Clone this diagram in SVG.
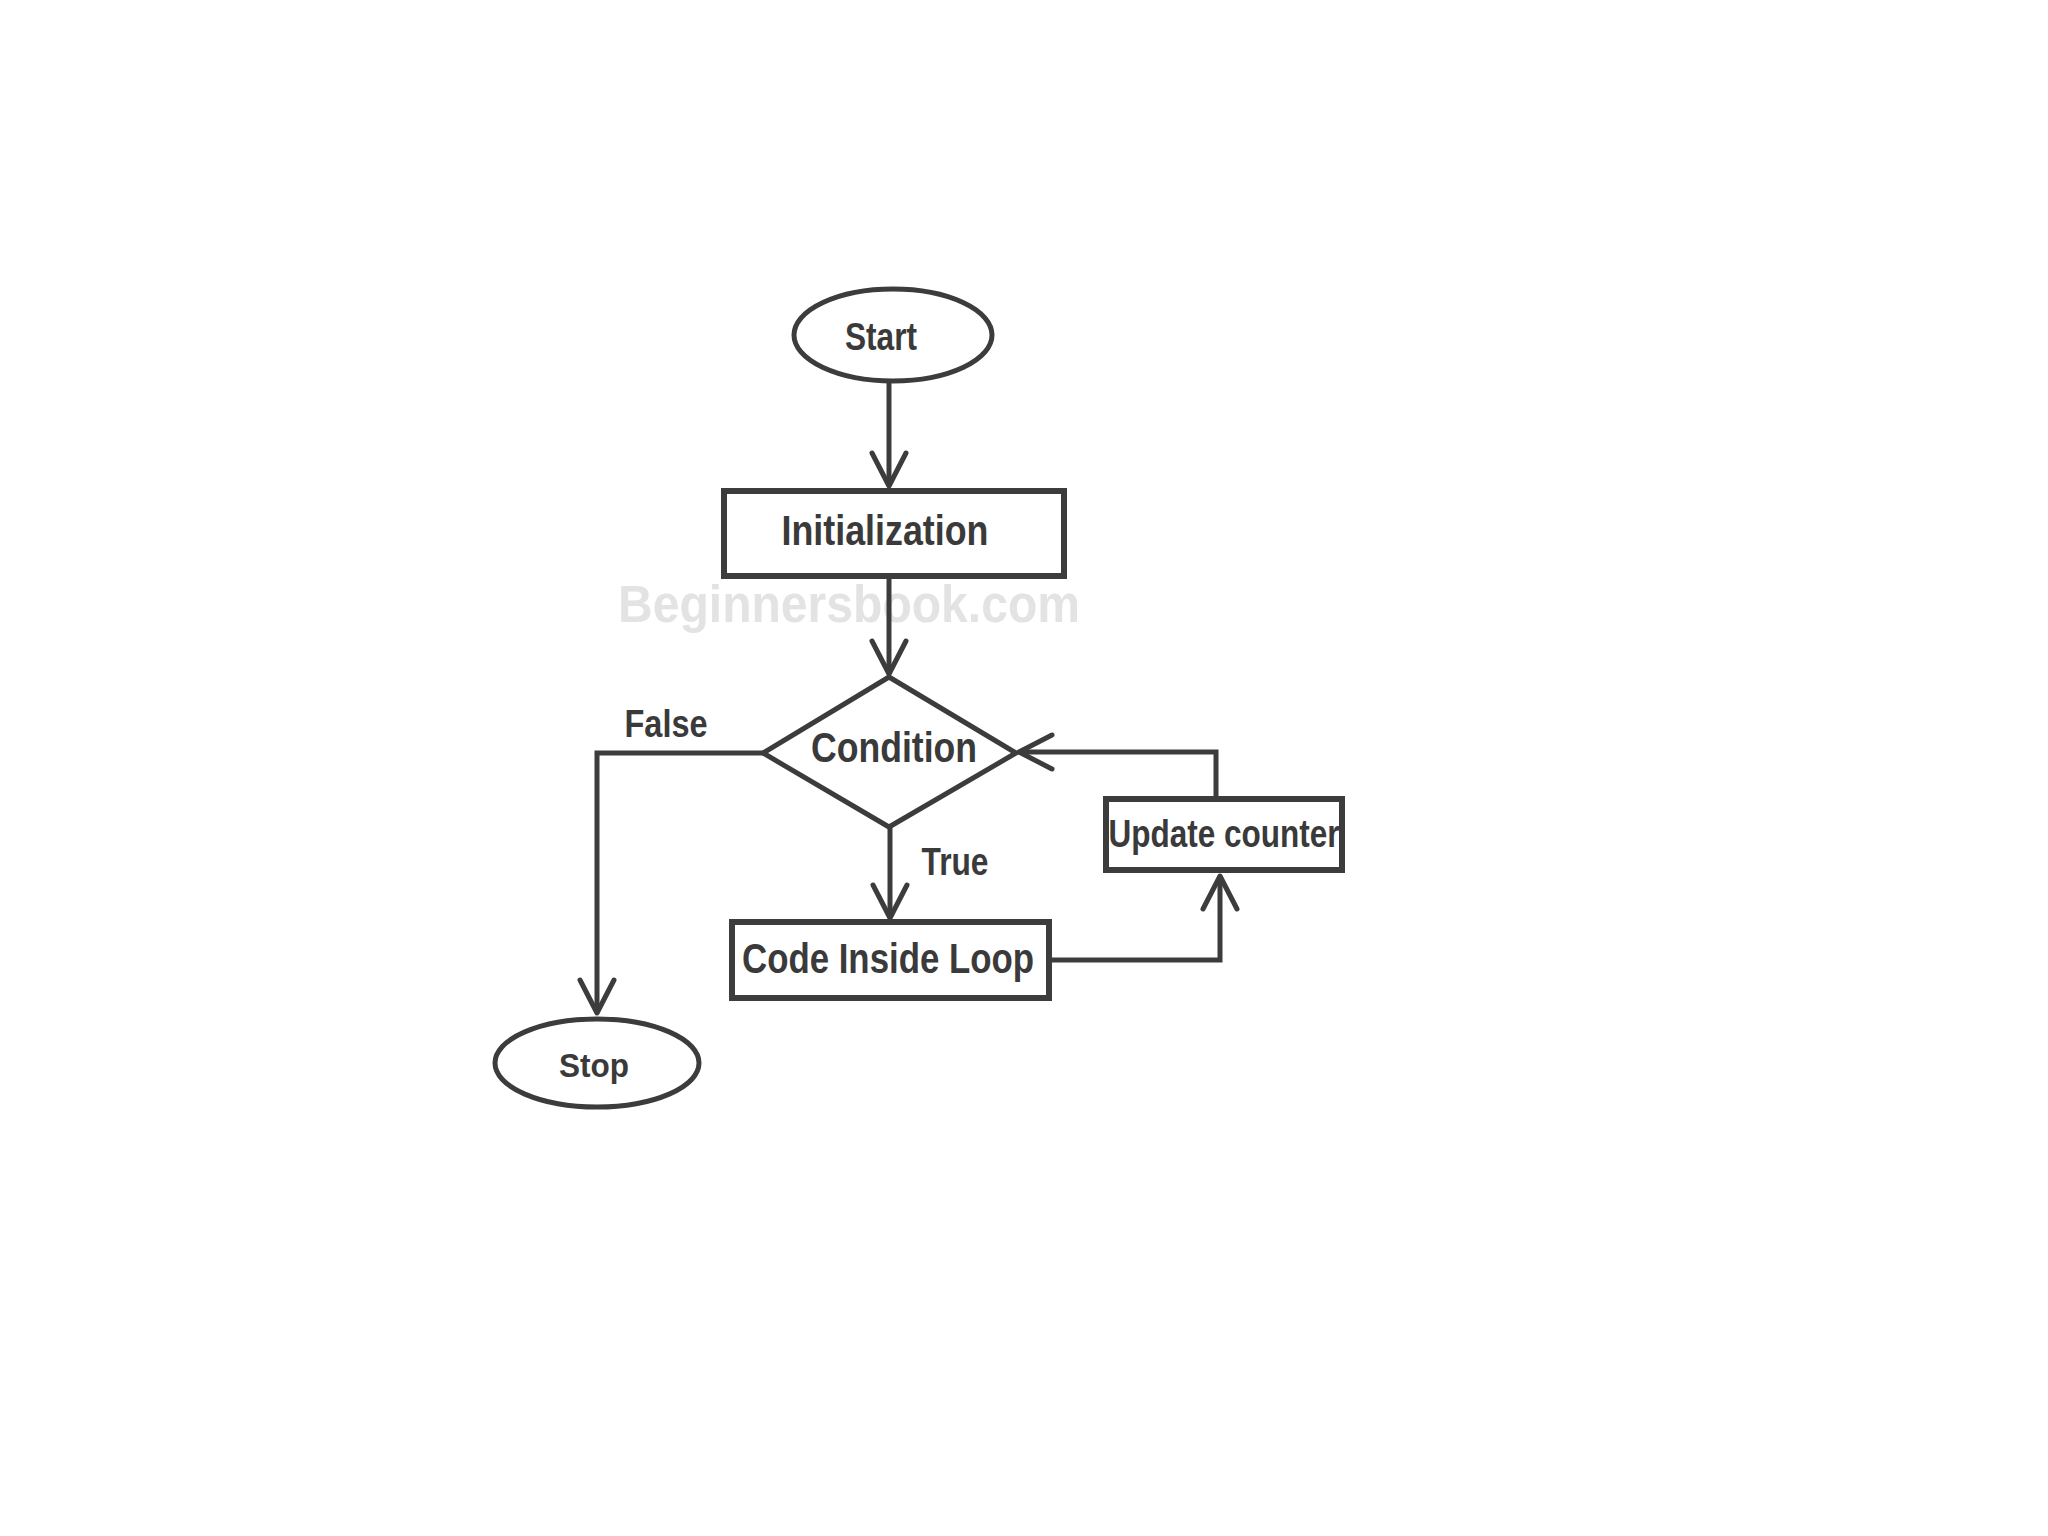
<svg xmlns="http://www.w3.org/2000/svg" width="2048" height="1536" viewBox="0 0 2048 1536">
<style>
.shape{fill:#ffffff;stroke:#3c3c3c;stroke-width:5}
.box{fill:#ffffff;stroke:#3c3c3c;stroke-width:6}
.line{fill:none;stroke:#3c3c3c;stroke-width:5;stroke-linejoin:miter}
.head{fill:none;stroke:#3c3c3c;stroke-width:5;stroke-linecap:round;stroke-linejoin:round}
.t{font-family:"Liberation Sans",Arial,sans-serif;font-weight:bold;fill:#3a3a3a;text-anchor:middle}
.wm{font-family:"Liberation Sans",Arial,sans-serif;font-weight:bold;fill:#e3e3e3;text-anchor:middle}
</style>
<rect width="2048" height="1536" fill="#ffffff"/>
<text class="wm" x="849" y="622" font-size="51" textLength="462" lengthAdjust="spacingAndGlyphs">Beginnersbook.com</text>
<g id="connectors">
  <path class="line" d="M889,381 V486"/>
  <path class="head" d="M872,453 L889,486 L906,453"/>
  <path class="line" d="M889,577 V674"/>
  <path class="head" d="M872,641 L889,674 L906,641"/>
  <path class="line" d="M763,753 H597 V1013"/>
  <path class="head" d="M580,980 L597,1013 L614,980"/>
  <path class="line" d="M890,827 V918"/>
  <path class="head" d="M873,885 L890,918 L907,885"/>
  <path class="line" d="M1049,960 H1220 V876"/>
  <path class="head" d="M1203,909 L1220,876 L1237,909"/>
  <path class="line" d="M1216,798 V752 H1019"/>
  <path class="head" d="M1052,735 L1019,752 L1052,769"/>
  <text class="t" x="666" y="737" font-size="38" textLength="83" lengthAdjust="spacingAndGlyphs">False</text>
  <text class="t" x="955" y="875" font-size="39" textLength="67" lengthAdjust="spacingAndGlyphs">True</text>
</g>
<g id="start">
  <ellipse class="shape" cx="893" cy="335" rx="99" ry="46"/>
  <text class="t" x="881" y="350" font-size="38" textLength="72" lengthAdjust="spacingAndGlyphs">Start</text>
</g>
<g id="initialization">
  <rect class="box" x="724" y="491" width="340" height="85"/>
  <text class="t" x="885" y="545" font-size="42" textLength="207" lengthAdjust="spacingAndGlyphs">Initialization</text>
</g>
<g id="condition">
  <path class="shape" d="M889,677 L1016,753 L889,827 L763,753 Z"/>
  <text class="t" x="894" y="762" font-size="42" textLength="166" lengthAdjust="spacingAndGlyphs">Condition</text>
</g>
<g id="code">
  <rect class="box" x="732" y="922" width="317" height="76"/>
  <text class="t" x="888" y="973" font-size="42" textLength="292" lengthAdjust="spacingAndGlyphs">Code Inside Loop</text>
</g>
<g id="update">
  <rect class="box" x="1106" y="799" width="236" height="71"/>
  <text class="t" x="1224" y="847" font-size="38" textLength="231" lengthAdjust="spacingAndGlyphs">Update counter</text>
</g>
<g id="stop">
  <ellipse class="shape" cx="597" cy="1063" rx="102" ry="44"/>
  <text class="t" x="594" y="1077" font-size="34" textLength="70" lengthAdjust="spacingAndGlyphs">Stop</text>
</g>
</svg>
